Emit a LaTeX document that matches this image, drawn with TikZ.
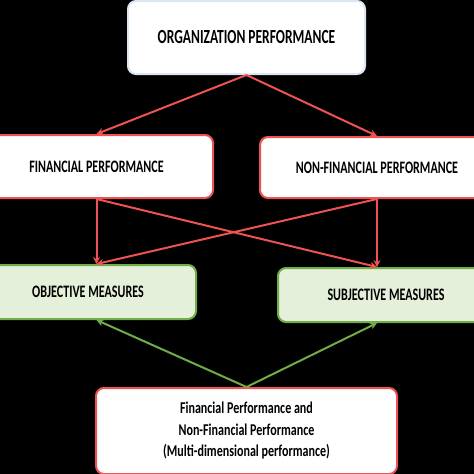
\documentclass[tikz,border=0pt]{standalone}
\usepackage{fontspec}
\setmainfont{Carlito}
\usepackage{graphicx}
\usetikzlibrary{arrows.meta}
\definecolor{redline}{RGB}{238,82,82}
\definecolor{greenline}{RGB}{112,173,71}
\definecolor{greenfill}{RGB}{228,240,218}
\definecolor{blueline}{RGB}{218,230,244}
\newcommand{\sqz}[2]{\scalebox{#1}[1]{#2}}
\tikzset{
  box/.style={draw, line width=2pt, rounded corners=8pt, fill=white, inner sep=0pt,
    font=\fontsize{17.5}{21}\selectfont\bfseries},
  redbox/.style={box, draw=redline},
  greenbox/.style={box, draw=greenline, fill=greenfill},
  bluebox/.style={box, draw=blueline},
  redarrow/.style={draw=redline, line width=2pt, -{Stealth[length=7pt,width=7pt]}},
  greenarrow/.style={draw=greenline, line width=2pt, -{Stealth[length=7pt,width=7pt]}},
}
\begin{document}
\begin{tikzpicture}[x=1pt,y=-1pt]
\fill[black] (0,0) rectangle (474,474);
\useasboundingbox (0,0) rectangle (474,474);
\clip (0,0) rectangle (474,474);
\node[bluebox, minimum width=237pt, minimum height=73pt, font=\fontsize{20}{24}\selectfont\bfseries] (org) at (246.5,37.5) {\sqz{0.675}{ORGANIZATION PERFORMANCE}};
\node[redbox, minimum width=233pt, minimum height=63pt] (fin) at (96.5,166.5) {\sqz{0.69}{FINANCIAL PERFORMANCE}};
\node[redbox, minimum width=234pt, minimum height=61pt] (non) at (377,167.5) {\sqz{0.69}{NON-FINANCIAL PERFORMANCE}};
\node[greenbox, minimum width=216pt, minimum height=54pt] (obj) at (88,292) {\sqz{0.69}{OBJECTIVE MEASURES}};
\node[greenbox, minimum width=216pt, minimum height=54pt] (sub) at (386,295) {\sqz{0.69}{SUBJECTIVE MEASURES}};
\node[redbox, minimum width=301pt, minimum height=86pt, font=\fontsize{16.5}{21.5}\selectfont\bfseries, align=center] (multi) at (246.5,431) {\sqz{0.73}{\begin{tabular}{@{}c@{}}Financial Performance and\\Non-Financial Performance\\(Multi-dimensional performance)\end{tabular}}};
\draw[redarrow] (org.south) -- (fin.north);
\draw[redarrow] (org.south) -- (non.north);
\draw[redarrow] (fin.south) -- (obj.north -| fin.south);
\draw[redarrow] (fin.south) -- (sub.north -| non.south);
\draw[redarrow] (non.south) -- (sub.north -| non.south);
\draw[redarrow] (non.south) -- (obj.north -| fin.south);
\draw[greenarrow] (multi.north) -- (obj.south -| fin.south);
\draw[greenarrow] (multi.north) -- (sub.south -| non.south);
\end{tikzpicture}
\end{document}
